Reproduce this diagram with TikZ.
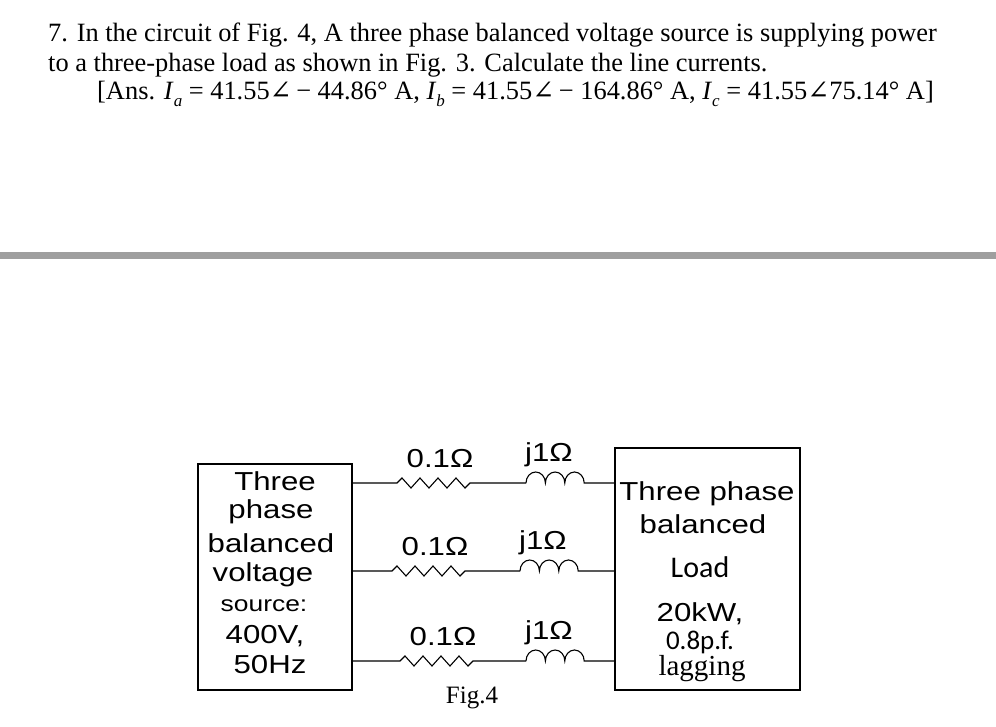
\documentclass[tikz,border=0pt]{standalone}
\usepackage{fontspec}
\setmainfont{Liberation Serif}
\newfontfamily\arialf[FakeStretch=1.2]{Liberation Sans}
\newfontfamily\calf{Carlito}
\newfontfamily\djf{DejaVu Serif}
\newcommand{\ang}{{\djf ∠}}
\newcommand{\ivar}[1]{\textit{I}\raisebox{-0.25em}{\fontsize{17}{18}\selectfont\textit{#1}}}
\begin{document}
\begin{tikzpicture}[x=1pt,y=-1pt,
  wire/.style={line width=1.1pt},
  boxs/.style={draw,line width=1.1pt},
  lbl/.style={font=\arialf\fontsize{26}{28}\selectfont,inner sep=0},
  ttl/.style={anchor=base west,inner sep=0,font=\fontsize{26.4}{30}\selectfont}]
\useasboundingbox (0,0) rectangle (996,727);
\fill[white] (0,0) rectangle (996,727);
\node[ttl] (t1) at (48,42) {7. In the circuit of Fig. 4, A three phase balanced voltage source is supplying power};
\node[ttl] (t2) at (48,72) {to a three-phase load as shown in Fig. 3. Calculate the line currents.};
\node[ttl] (t3) at (97,100) {[Ans. \ivar{a} = 41.55\ang\,− 44.86° A, \ivar{b} = 41.55\ang\,− 164.86° A, \ivar{c} = 41.55\ang75.14° A]};
\fill[gray!75] (0,252) rectangle (996,259);
\draw[boxs] (198,464) rectangle (352,690);
\draw[boxs] (615,448) rectangle (800,690);
\node[lbl] (s1) at (275,481) {Three};
\node[lbl] (s2) at (271,512) {phase};
\node[lbl] (s3) at (271,543) {balanced};
\node[lbl] (s4) at (263,575) {voltage};
\node[lbl,font=\arialf\fontsize{22}{24}\selectfont] (s5) at (264,606) {source:};
\node[lbl] (s6) at (265,636) {400V,};
\node[lbl] (s7) at (270,665) {50Hz};
\node[lbl] (l1) at (707,494) {Three phase};
\node[lbl] (l2) at (703,524) {balanced};
\node[inner sep=0,font=\calf\fontsize{30}{32}\selectfont] (l3) at (700,567) {Load};
\node[lbl] (l4) at (700,614) {20kW,};
\node[inner sep=0,font=\calf\fontsize{27}{28}\selectfont] (l5) at (700,642) {0.8p.f.};
\node[inner sep=0,font=\fontsize{29}{30}\selectfont] (l6) at (702,669) {lagging};
\node[inner sep=0,font=\fontsize{25}{26}\selectfont] (fg) at (472,698) {Fig.4};
\foreach \yy/\rx/\lx in {483/0/0, 571/-5/-6, 661/3/0}{
  \draw[wire] (352,\yy) -- (397+\rx,\yy)
     -- ++(5,-5) -- ++(9,10) -- ++(9,-10) -- ++(9,10) -- ++(9,-10) -- ++(9,10) -- ++(9,-10) -- ++(9,10) -- ++(5,-5)
     -- (526+\lx,\yy);
  \draw[wire] (526+\lx,\yy) arc[start angle=180,end angle=0,x radius=9.7,y radius=-11]
     arc[start angle=180,end angle=0,x radius=9.7,y radius=-11]
     arc[start angle=180,end angle=0,x radius=9.7,y radius=-11]
     -- (615,\yy);
  \node[lbl] at (440+\rx,\yy-24) {0.1Ω};
  \node[lbl] at (549+\lx,\yy-28) {j1Ω};
}
\end{tikzpicture}
\end{document}
